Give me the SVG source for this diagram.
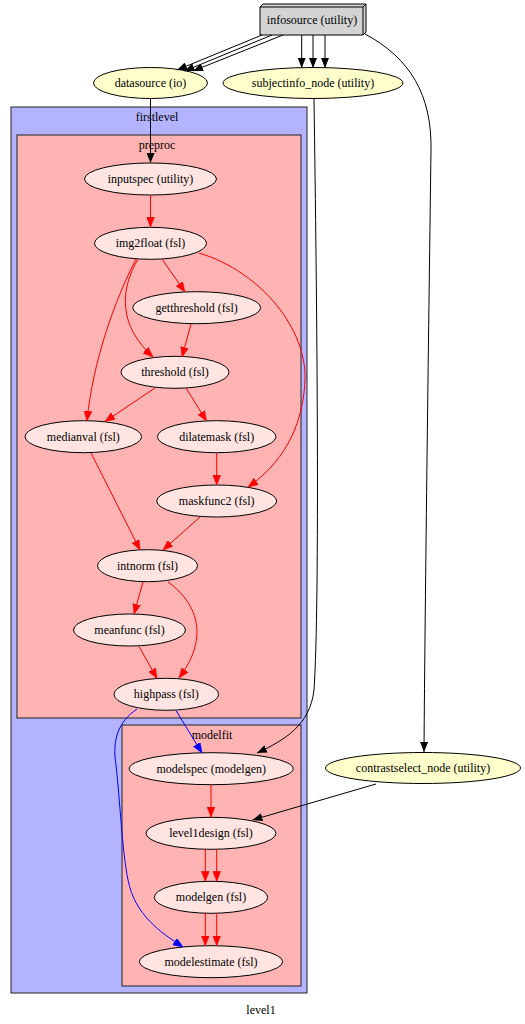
<svg xmlns="http://www.w3.org/2000/svg" width="525" height="1024" viewBox="0 0 525 1024" font-family="'Liberation Serif', 'Times New Roman', Times, serif" font-size="12">
<defs>
<style>
text{font-family:'Liberation Serif','Times New Roman',Times,serif;font-size:12px;text-anchor:middle;fill:#000}
.nd{fill:#ffe4e1;stroke:#000;stroke-width:1}
.ext{fill:#ffffcc;stroke:#000;stroke-width:1}
.e{fill:none;stroke-width:1}
.k{stroke:#000;marker-end:url(#ak)}
.r{stroke:#ff0000;marker-end:url(#ar)}
.b{stroke:#0000ff;marker-end:url(#ab)}
</style>
<marker id="ak" markerUnits="userSpaceOnUse" viewBox="0 0 10 8" refX="10" refY="4" markerWidth="10" markerHeight="8" orient="auto"><path d="M0,0L10,4L0,8z" fill="#000"/></marker>
<marker id="ar" markerUnits="userSpaceOnUse" viewBox="0 0 10 8" refX="10" refY="4" markerWidth="10" markerHeight="8" orient="auto"><path d="M0,0L10,4L0,8z" fill="#ff0000" stroke="#ff0000" stroke-width="0.5"/></marker>
<marker id="ab" markerUnits="userSpaceOnUse" viewBox="0 0 10 8" refX="10" refY="4" markerWidth="10" markerHeight="8" orient="auto"><path d="M0,0L10,4L0,8z" fill="#0000ff" stroke="#0000ff" stroke-width="0.5"/></marker>
</defs>
<rect width="525" height="1024" fill="#fff"/>
<g id="cluster_firstlevel">
<rect x="11" y="107" width="296" height="886" fill="#b3b3ff" stroke="#222"/>
<text x="157" y="121">firstlevel</text>
</g>
<g id="cluster_preproc">
<rect x="17" y="135" width="284" height="583" fill="#ffb3b3" stroke="#222"/>
<text x="157" y="149">preproc</text>
</g>
<g id="cluster_modelfit">
<rect x="122" y="725" width="179" height="261" fill="#ffb3b3" stroke="#222"/>
<text x="212" y="739">modelfit</text>
</g>
<g id="infosource">
<path d="M260,7L263,4L366,4L366,32L363,35L260,35z" fill="#d3d3d3" stroke="#000"/>
<path d="M260,7L363,7L366,4M363,7L363,35" fill="none" stroke="#000"/>
<text x="312" y="24">infosource (utility)</text>
</g>
<g id="datasource"><ellipse class="ext" cx="150.5" cy="83" rx="57" ry="15.5"/><text x="150.5" y="87">datasource (io)</text></g>
<g id="subjectinfo_node"><ellipse class="ext" cx="313" cy="83" rx="90" ry="15.5"/><text x="313" y="87">subjectinfo_node (utility)</text></g>
<g id="contrastselect_node"><ellipse class="ext" cx="423" cy="768" rx="97.5" ry="15.5"/><text x="423" y="772">contrastselect_node (utility)</text></g>
<g id="inputspec"><ellipse class="nd" cx="150.5" cy="179" rx="66" ry="16"/><text x="150.5" y="183">inputspec (utility)</text></g>
<g id="img2float"><ellipse class="nd" cx="150.5" cy="243.3" rx="56" ry="16"/><text x="150.5" y="247.3">img2float (fsl)</text></g>
<g id="getthreshold"><ellipse class="nd" cx="196.7" cy="307.7" rx="64" ry="16"/><text x="196.7" y="311.7">getthreshold (fsl)</text></g>
<g id="threshold"><ellipse class="nd" cx="175" cy="372.3" rx="54" ry="16"/><text x="175" y="376.3">threshold (fsl)</text></g>
<g id="medianval"><ellipse class="nd" cx="83.3" cy="436.7" rx="58.3" ry="16"/><text x="83.3" y="440.7">medianval (fsl)</text></g>
<g id="dilatemask"><ellipse class="nd" cx="216.7" cy="436.7" rx="59.3" ry="16"/><text x="216.7" y="440.7">dilatemask (fsl)</text></g>
<g id="maskfunc2"><ellipse class="nd" cx="216.7" cy="501" rx="60" ry="16"/><text x="216.7" y="505">maskfunc2 (fsl)</text></g>
<g id="intnorm"><ellipse class="nd" cx="147.5" cy="565.7" rx="50" ry="16"/><text x="147.5" y="569.7">intnorm (fsl)</text></g>
<g id="meanfunc"><ellipse class="nd" cx="129.5" cy="630" rx="56" ry="16"/><text x="129.5" y="634">meanfunc (fsl)</text></g>
<g id="highpass"><ellipse class="nd" cx="166.3" cy="694.3" rx="52.3" ry="16"/><text x="166.3" y="698.3">highpass (fsl)</text></g>
<g id="modelspec"><ellipse class="nd" cx="211.2" cy="768.7" rx="82" ry="16"/><text x="211.2" y="772.7">modelspec (modelgen)</text></g>
<g id="level1design"><ellipse class="nd" cx="211" cy="833.3" rx="65" ry="16"/><text x="211" y="837.3">level1design (fsl)</text></g>
<g id="modelgen"><ellipse class="nd" cx="211" cy="897.3" rx="56.7" ry="16"/><text x="211" y="901.3">modelgen (fsl)</text></g>
<g id="modelestimate"><ellipse class="nd" cx="211" cy="961.7" rx="71.7" ry="16"/><text x="211" y="965.7">modelestimate (fsl)</text></g>
<g id="connectors">
<path class="e k" d="M262,35L177,70"/>
<path class="e k" d="M272,35L184.5,71"/>
<path class="e k" d="M283,35L193,71"/>
<path class="e k" d="M301.7,35L301.7,68"/>
<path class="e k" d="M313,35L313,68"/>
<path class="e k" d="M325,35L325,68"/>
<path class="e k" d="M365,34C410,58 432,95 431,150C429,300 425,600 424,752"/>
<path class="e k" d="M314,99C317,300 320,600 314,690C310,725 285,740 257,753"/>
<path class="e k" d="M150.5,99L150.5,163"/>
<path class="e r" d="M150.5,195L150.5,227"/>
<path class="e r" d="M162,259L185,292"/>
<path class="e r" d="M138,259C120,290 118,325 153,357"/>
<path class="e r" d="M136,259C115,300 93,360 87,421"/>
<path class="e r" d="M199,253C262,272 307,330 305,380C303,430 280,465 248,487"/>
<path class="e r" d="M191,324L182,357"/>
<path class="e r" d="M155,388L105,421.5"/>
<path class="e r" d="M186,388L206.5,421"/>
<path class="e r" d="M216.7,453L216.7,485"/>
<path class="e r" d="M91,453L140,550"/>
<path class="e r" d="M200,517L163,550"/>
<path class="e r" d="M143,582L134,614"/>
<path class="e r" d="M168,582C200,605 208,640 179,678"/>
<path class="e r" d="M139,646.5L157,678.5"/>
<path class="e b" d="M176,710.5L202,753"/>
<path class="e b" d="M137,709C118,722 112,740 116,765C120,800 122,850 128,880C135,915 160,932 183,947"/>
<path class="e r" d="M211,785L211,817"/>
<path class="e k" d="M376,784L252.5,820"/>
<path class="e r" d="M205.3,849.3L205.3,881.3"/>
<path class="e r" d="M216.7,849.3L216.7,881.3"/>
<path class="e r" d="M205.3,913.3L205.3,945.7"/>
<path class="e r" d="M216.7,913.3L216.7,945.7"/>
</g>
<text x="261" y="1014">level1</text>
</svg>
